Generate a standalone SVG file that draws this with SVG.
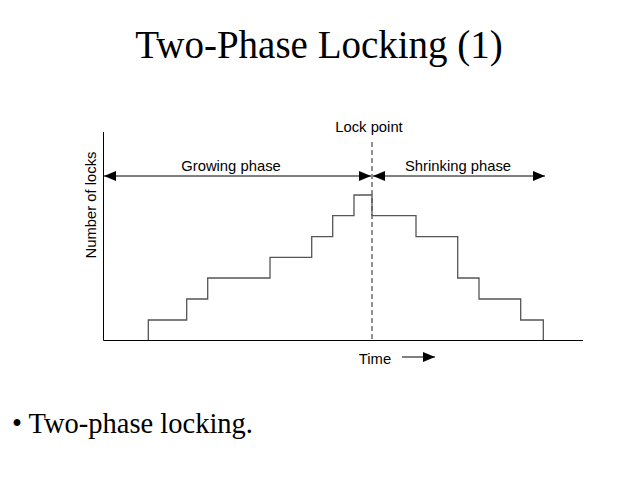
<svg xmlns="http://www.w3.org/2000/svg" width="638" height="478" viewBox="0 0 638 478">
<style>
.t{font-family:"Liberation Serif",serif;fill:#000}
.s{font-family:"Liberation Sans",Arial,sans-serif;font-size:14.8px;fill:#000}
.ln{stroke:#000;stroke-width:1;fill:none}
.st{stroke:#555;stroke-width:1.3;fill:none}
</style>
<defs>
<marker id="a" viewBox="0 0 12 10" refX="12" refY="5" markerWidth="12" markerHeight="10" markerUnits="userSpaceOnUse" orient="auto-start-reverse"><path d="M0,0L12,5L0,10z" fill="#000"/></marker>
</defs>
<rect width="638" height="478" fill="#fff"/>
<text class="t" x="319" y="58" font-size="39" text-anchor="middle">Two-Phase Locking (1)</text>
<text class="t" x="12" y="433" font-size="28.5">• Two-phase locking.</text>
<g id="axes">
<path class="ln" d="M103.5,132V340.5H583"/>
<text class="s" transform="translate(96,205) rotate(-90)" text-anchor="middle">Number of locks</text>
<text class="s" x="375" y="364" text-anchor="middle">Time</text>
</g>
<g id="connectors">
<line class="ln" x1="104" y1="176" x2="371" y2="176" marker-start="url(#a)" marker-end="url(#a)"/>
<line class="ln" x1="373" y1="176" x2="545" y2="176" marker-start="url(#a)" marker-end="url(#a)"/>
<line class="ln" x1="402" y1="357" x2="435" y2="357" marker-end="url(#a)"/>
<line x1="372" y1="142" x2="372" y2="340" stroke="#555" stroke-width="1.3" stroke-dasharray="5,3"/>
</g>
<g id="steps">
<path class="st" d="M148.3,340V320H186.7V299H207.7V278H270V257.3H311.7V236.7H332.7V215.7H354V195H372V215.7H416V236.7H457.7V278H479V299H520.7V320H543.3V340"/>
</g>
<g id="labels">
<text class="s" x="369" y="132" text-anchor="middle">Lock point</text>
<text class="s" x="231" y="171" text-anchor="middle">Growing phase</text>
<text class="s" x="458" y="171" text-anchor="middle">Shrinking phase</text>
</g>
</svg>
